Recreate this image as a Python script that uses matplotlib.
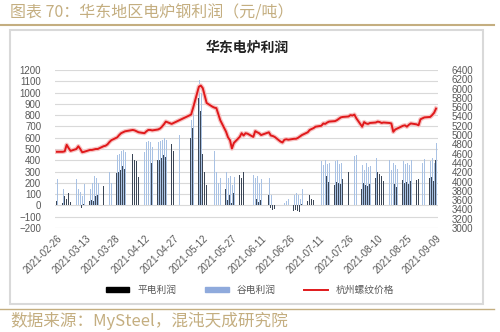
import numpy as np
import pandas as pd
import matplotlib
matplotlib.use('Agg')
import matplotlib.pyplot as plt
import matplotlib.dates as mdates
from matplotlib.patches import Rectangle, Patch
from matplotlib.lines import Line2D

plt.rcParams['font.family'] = ['Noto Sans CJK SC', 'DejaVu Sans']

# Handelstage (Wochenenden und Feiertage fehlen)
feiertage = ['2021-04-05', '2021-05-03', '2021-05-04', '2021-05-05', '2021-06-14']
tage = pd.bdate_range('2021-02-26', '2021-09-09')
tage = tage[~tage.isin(pd.to_datetime(feiertage))]

# 平电利润 (元/吨), woechentlich gruppiert
ping_dian = [
    40,
    20, 80, 60, 110, 30,
    -10, -15, -5, -20, 10,
    40, 50, 40, 80, 90,
    170, 120, 160, 130, 50,
    290, 300, 310, 345, 320,
    460, 400, 390, 250,
    315, 400, 420, 410, 380,
    400, 405, 420, 450, 430,
    540, 480, 500, 510, 470,
    600, 685,
    950, 840, 460, 300, 180,
    270, 220, 80, 40, 70,
    150, 50, 90, 20, 110,
    270, 240, 300, 250, 280,
    80, 35, 60, 30, 50,
    95, -25, -40, -30,
    -110, -170, -140, -100, -80,
    -50, -40, -50, -60, 10,
    35, 95, 60, 50, 90,
    225, 250, 200, 260, 210,
    180, 210, 200, 190, 230,
    300, 330, 310, 280, 300,
    150, 200, 180, 170, 190,
    240, 300, 280, 260, 220,
    225, 140, 200, 190, 160,
    225, 200, 210, 190, 220,
    225, 230, 200, 210, 240,
    240, 250, 220, 400,
]

# 谷电利润 (元/吨)
gu_dian = [
    230,
    150, 230, 210, 270, 220,
    230, 150, 120, 80, 190,
    150, 200, 260, 240, 200,
    320, 260, 310, 300, 200,
    450, 460, 480, 490, 470,
    610, 540, 560, 400,
    470, 560, 570, 560, 520,
    560, 570, 580, 600, 580,
    690, 640, 660, 700, 620,
    760, 830,
    1110, 1000, 800, 460, 360,
    540, 480, 300, 200, 240,
    300, 240, 260, 180, 250,
    400, 360, 430, 400, 420,
    270, 240, 260, 200, 230,
    240, 95, 60, 80,
    35, -60, 20, 40, 60,
    95, 110, 90, 60, 150,
    240, 330, 280, 260, 300,
    390, 360, 400, 370, 380,
    390, 400, 370, 380, 410,
    460, 450, 470, 440, 450,
    360, 310, 380, 340, 350,
    420, 430, 400, 410, 380,
    400, 310, 380, 360, 320,
    390, 370, 380, 360, 400,
    420, 390, 400, 380, 410,
    390, 420, 380, 550,
]

# 杭州螺纹价格 (元/吨)
luowen = [
    4640,
    4640, 4650, 4790, 4720, 4660,
    4700, 4760, 4700, 4630, 4640,
    4680, 4680, 4690, 4700, 4700,
    4760, 4770, 4800, 4850, 4890,
    4950, 5000, 5040, 5060, 5080,
    5110, 5100, 5080, 5060,
    5040, 5080, 5110, 5110, 5100,
    5120, 5140, 5180, 5230, 5290,
    5240, 5260, 5280, 5300, 5320,
    5440, 5580,
    6040, 6065, 6010, 5850, 5690,
    5610, 5590, 5580, 5450, 5320,
    5070, 4950, 4890, 4710, 4830,
    4960, 5040, 4990, 5040, 5030,
    4960, 5085, 5060, 5040, 5000,
    5060, 4990, 4980, 4960,
    4860, 4840, 4900, 4910, 4900,
    4920, 4920, 4940, 4970, 5000,
    5060, 5110, 5130, 5150, 5180,
    5200, 5250, 5240, 5270, 5290,
    5300, 5320, 5350, 5380, 5390,
    5400, 5430, 5420, 5440, 5360,
    5180, 5280, 5250, 5240, 5260,
    5270, 5290, 5280, 5260, 5270,
    5260, 5250, 5070, 5120, 5140,
    5200, 5210, 5180, 5220, 5250,
    5230, 5210, 5340, 5360, 5380,
    5390, 5430, 5480, 5570,
]

x_ticks = pd.date_range('2021-02-26', '2021-09-09', freq='15D')

beige = '#C4AE80'
grau = '#595959'

fig = plt.figure(figsize=(5, 3.32), dpi=100)
fig.patch.set_facecolor('white')

# Rahmen, Linien und Texte aussen
fig.text(0.02, 1 - 13 / 332, '图表 70：华东地区电炉钢利润（元/吨）', color=beige,
         fontsize=11.5, va='center', ha='left')
fig.add_artist(Line2D([0.0, 0.988], [1 - 25 / 332] * 2, color=beige, lw=1.5))
fig.add_artist(Rectangle((10 / 500, 1 - 304 / 332), 473 / 500, 274 / 332,
                         fill=False, edgecolor='#D9D9D9', lw=1.5))
fig.add_artist(Line2D([0.0, 0.988], [1 - 309 / 332] * 2, color=beige, lw=1.0))
fig.text(0.02, 1 - 321 / 332, '数据来源：MySteel，混沌天成研究院', color=beige,
         fontsize=12, va='center', ha='left')
fig.text(0.494, 1 - 48 / 332, '华东电炉利润', color='#222222', fontsize=10,
         fontweight='bold', va='center', ha='center')

ax = fig.add_axes([55 / 500, 1 - 228 / 332, 383 / 500, 158 / 332])
ax2 = ax.twinx()

xnum = mdates.date2num(tage)
ax.bar(xnum - 0.2, ping_dian, width=0.35, color='#3B4656', zorder=3)
ax.bar(xnum + 0.2, gu_dian, width=0.35, color='#A9C2E4', zorder=3)

ax2.plot(xnum, luowen, color='#F6C4C4', lw=3.2, zorder=2)
ax2.plot(xnum, luowen, color='#E0191B', lw=1.4, zorder=3)

ax.set_ylim(-200, 1200)
ax.set_yticks(np.arange(-200, 1201, 100))
ax2.set_ylim(3000, 6400)
ax2.set_yticks(np.arange(3000, 6401, 200))
ax.set_xlim(mdates.date2num(pd.Timestamp('2021-02-25')),
            mdates.date2num(pd.Timestamp('2021-09-10')))
ax.set_xticks(mdates.date2num(x_ticks))
ax.set_xticklabels([d.strftime('%Y-%m-%d') for d in x_ticks], rotation=45,
                   ha='right', rotation_mode='anchor')

ax.grid(axis='y', color='#D9D9D9', lw=0.8, zorder=0)
ax.set_axisbelow(True)
for a in (ax, ax2):
    for s in a.spines.values():
        s.set_visible(False)
    a.tick_params(length=0, labelsize=7, labelcolor=grau)
    for lab in a.get_xticklabels() + a.get_yticklabels():
        lab.set_fontfamily('Liberation Sans')
ax.tick_params(axis='y', pad=10)
ax.tick_params(axis='x', pad=4)
ax2.tick_params(axis='y', pad=10)

handles = [Patch(color='black'), Patch(color='#8FAADC'),
           Line2D([], [], color='#E0191B', lw=1.4)]
fig.legend(handles, ['平电利润', '谷电利润', '杭州螺纹价格'], loc='center',
           bbox_to_anchor=(0.5, 1 - 290 / 332), ncol=3, frameon=False,
           fontsize=7, handlelength=2.4, handleheight=0.5, columnspacing=3.0,
           labelcolor=grau)

fig.savefig('out.png', dpi=100)
